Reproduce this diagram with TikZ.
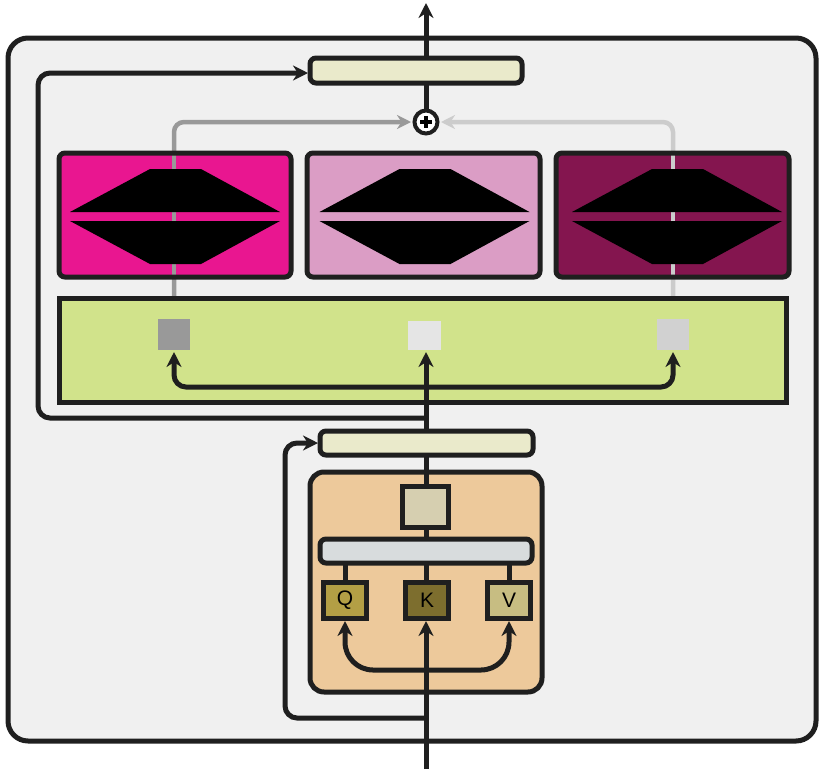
\documentclass[tikz,border=0pt]{standalone}
\usetikzlibrary{arrows.meta}
\usepackage{fontspec}
\setmainfont{Liberation Sans}
\begin{document}
\begin{tikzpicture}[x=1pt,y=-1pt,
  blk/.style={draw=black!88,line width=5pt,rounded corners=6pt},
  ln/.style={line width=5pt,black!88},
  arr/.style={ln,-{Stealth[length=15pt,width=15pt]},rounded corners=12pt},
  gln/.style={line width=4.5pt,-{Stealth[length=14pt,width=14pt]},rounded corners=10pt},
  sq/.style={draw=black!88,line width=5pt,minimum width=43pt,minimum height=36pt,inner sep=0pt,font=\fontsize{21}{24}\selectfont}]
\useasboundingbox (0,0) rectangle (822,769);
\definecolor{bar}{HTML}{EAEACB}
\draw[line width=5pt,draw=black!88,fill=black!6,rounded corners=20pt] (8,38) rectangle (816,741);
\draw[ln,-{Stealth[length=15pt,width=15pt]}] (426,122) -- (426,3);
\coordinate (rb) at (426,718);
\coordinate (ra) at (426,418);
\draw[gln,draw=black!40] (174,335) -- (174,122) -- (411,122);
\draw[gln,draw=black!20] (673,335) -- (673,122) -- (441,122);
\foreach \xa/\xb/\c/\cx in {59/291/E91690/175, 307/540/DB9DC5/424.5, 556/789/84154F/677}{
  \definecolor{mc}{HTML}{\c}
  \fill[mc,rounded corners=6pt] (\xa,153) rectangle (\xb,277);
  \ifnum\xa=59 \draw[line width=4.5pt,black!40] (174,153)--(174,277);\fi
  \ifnum\xa=556 \draw[line width=4.5pt,black!20] (673,153)--(673,277);\fi
  \fill[black] (\cx-25,169) -- (\cx+26,169) -- (\cx+105,212) -- (\cx-105,212) -- cycle;
  \fill[black] (\cx-105,221) -- (\cx+105,221) -- (\cx+26,264) -- (\cx-25,264) -- cycle;
  \draw[blk] (\xa,153) rectangle (\xb,277);
}
\node[circle,draw=black!88,line width=4pt,fill=white,minimum size=23pt,inner sep=0pt] (plus) at (426,122) {};
\draw[line width=4.5pt] (420,122)--(432,122) (426,116)--(426,128);
\draw[blk,fill=bar] (310,58) rectangle (522,83);
\draw[line width=5pt,draw=black!88,fill={rgb,255:red,209;green,227;blue,139}] (59,298) rectangle (786,402);
\draw[ln] (426,400)--(426,431);
\draw[arr] (426,387) -- (174,387) -- (174,352);
\draw[arr] (426,387) -- (673,387) -- (673,352);
\draw[ln,-{Stealth[length=15pt,width=15pt]}] (426,400) -- (426,352);
\fill[black!40] (158,319) rectangle (190,350);
\fill[black!10] (408,321) rectangle (441,350);
\fill[black!18] (657,319) rectangle (689,350);
\draw[arr] (ra) -- (38,418) -- (38,73) -- (308,73);
\draw[blk,fill=bar] (320,431) rectangle (533,455);
\draw[arr] (rb) -- (285,718) -- (285,443) -- (318,443);
\draw[line width=5pt,draw=black!88,fill={rgb,255:red,237;green,201;blue,155},rounded corners=14pt] (310,472) rectangle (542,692);
\draw[ln] (426,455)--(426,486) (426,527)--(426,539) (345,563)--(345,580) (426,563)--(426,580) (509,563)--(509,580);
\draw[ln,fill={rgb,255:red,214;green,207;blue,176}] (402,486) rectangle (448,527);
\draw[blk,fill={rgb,255:red,216;green,220;blue,221}] (320,539) rectangle (532,563);
\node[sq,fill={rgb,255:red,179;green,159;blue,69}] (q) at (345,600.5) {Q};
\node[sq,fill={rgb,255:red,125;green,110;blue,46}] (k) at (427,600.5) {K};
\node[sq,fill={rgb,255:red,199;green,189;blue,130}] (v) at (509,600.5) {V};
\draw[arr,rounded corners=28pt] (426,670) -- (345,670) -- (q.south);
\draw[arr,rounded corners=28pt] (426,670) -- (509,670) -- (v.south);
\draw[ln,-{Stealth[length=15pt,width=15pt]}] (426,769) -- (426,621);
\end{tikzpicture}
\end{document}
